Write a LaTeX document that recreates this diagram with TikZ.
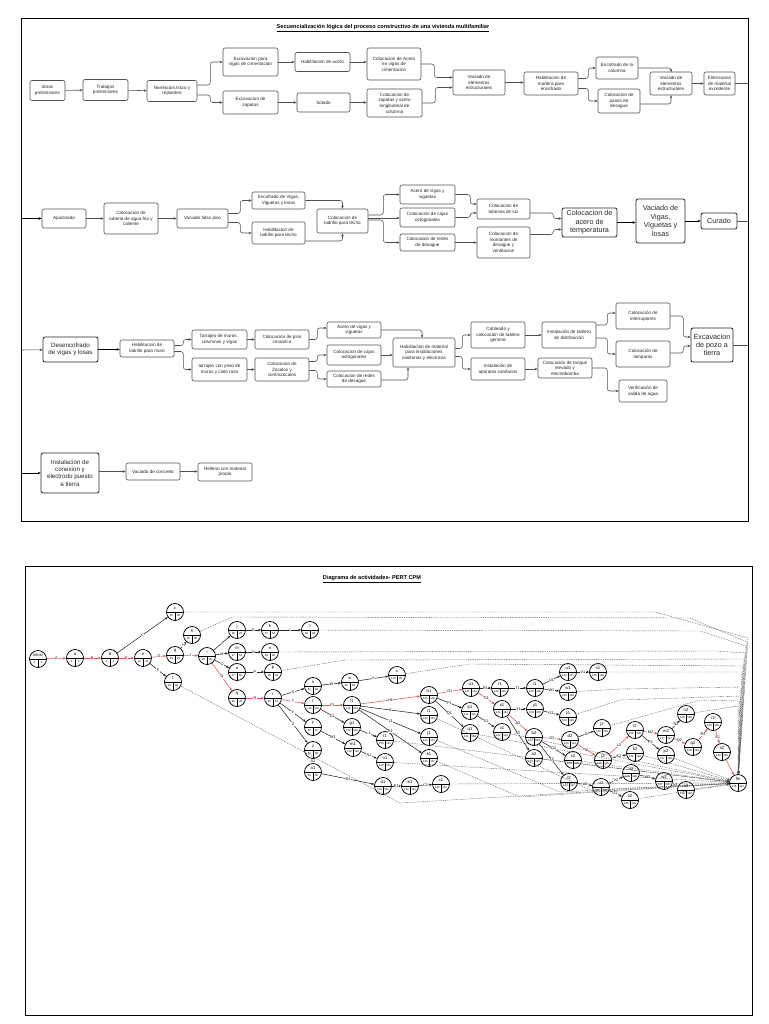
\documentclass[tikz,border=0pt]{standalone}
\usepackage{fontspec}
\setmainfont{Liberation Sans}
\usetikzlibrary{arrows.meta,calc}
\definecolor{bx}{HTML}{505050}
\definecolor{crit}{HTML}{E05555}
\newcommand{\pn}[6]{%
  \node[pcirc] (#1) at (#2,#3) {};
  \draw[line width=1pt] (#1.west) -- (#1.east);
  \draw[line width=0.6pt] (#1.center) -- (#1.south);
  \node[plab] at (#2,#3-4) {#4};
  \node[pnum] at (#2-3.6,#3+3.6) {#5};
  \node[pnum] at (#2+3.6,#3+3.6) {#6};
}
\newcommand{\pe}[4]{\draw[pedge,#4] (#1) -- node[elab]{#3} (#2);}
\begin{document}
\begin{tikzpicture}[x=1pt,y=-1pt,
  box/.style={draw=bx, rounded corners=2pt, line width=0.6pt, align=center, inner sep=0.5pt,
     font=\fontsize{4.6}{5.6}\selectfont, text=black!85},
  bbox/.style={box, draw=black!85, line width=0.8pt, font=\fontsize{7.2}{8.4}\selectfont},
  arr/.style={draw=bx, line width=0.55pt, -{Stealth[length=3pt,width=2.6pt]}, rounded corners=2.5pt},
  barr/.style={arr, draw=black, line width=0.9pt},
  pcirc/.style={circle, draw, line width=0.75pt, minimum size=17pt, inner sep=0pt},
  plab/.style={font=\fontsize{4.2}{4.6}\selectfont, inner sep=0pt},
  pnum/.style={font=\fontsize{2.8}{3}\selectfont, inner sep=0pt},
  pedge/.style={draw=black!85, line width=0.55pt, -{Stealth[length=3pt,width=2.4pt]}},
  crit/.style={draw=crit},
  elab/.style={font=\fontsize{3.8}{4.2}\selectfont, fill=white, inner sep=0.4pt},
  dotl/.style={draw=black!70, line width=0.4pt, dash pattern=on 0.9pt off 0.9pt, -{Stealth[length=2.5pt,width=2pt]}},
  ttl/.style={font=\bfseries\fontsize{5.6}{6}\selectfont, inner sep=0pt}
]
\useasboundingbox (0,0) rectangle (768,1024);
\fill[white] (0,0) rectangle (768,1024);

% ================= TOP PANEL =================
\draw[line width=0.9pt] (21,18) rectangle (748,521);
\node[ttl] (t1) at (383,28) {\underline{Secuencialización lógica del proceso constructivo de una vivienda multifamiliar}};

% Row 1
\node[box,minimum width=35,minimum height=20] (obras) at (47.5,90.5) {obras\\preliminares};
\node[box,minimum width=45,minimum height=21] (trab) at (105.5,90) {Trabajos\\preliminares};
\node[box,minimum width=50,minimum height=21] (niv) at (172,91) {Nivelacion,trazo y\\replanteo};
\node[box,minimum width=55,minimum height=28] (exv) at (250.5,62) {Excavacion para\\vigas de cimentacion};
\node[box,minimum width=55,minimum height=23] (exz) at (250.5,102.5) {Excavacion de\\zapatas};
\node[box,minimum width=55,minimum height=19] (hab) at (322.5,62) {Habilitacion de acero};
\node[box,minimum width=54,minimum height=32] (colav) at (394,64) {Colocacion de Acero\\en vigas de\\cimentacion};
\node[box,minimum width=53,minimum height=19] (solado) at (323.5,102.5) {Solado};
\node[box,minimum width=55,minimum height=28] (colz) at (394.5,103) {Colocacion de\\zapatas y acero\\longitudinal de\\columna};
\node[box,minimum width=52,minimum height=25] (vac1) at (479,82.5) {Vaciado de\\elementos\\estructurales};
\node[box,minimum width=54,minimum height=23] (habm) at (551,83.5) {Habilitacion de\\madera para\\encofrado};
\node[box,minimum width=42,minimum height=22] (encc) at (617,68) {Encofrado de la\\columna};
\node[box,minimum width=42,minimum height=24] (pases) at (619,101) {Colocacion de\\pases de\\desague};
\node[box,minimum width=42,minimum height=23] (vac2) at (671,83.5) {Vaciado de\\elementos\\estructurales};
\node[box,minimum width=31,minimum height=23] (elim) at (719.5,83.5) {Eliminacion\\de material\\excedente};
\coordinate (out1) at (748,83.5);

\draw[arr] (obras) -- (trab);
\draw[arr] (trab) -- (niv);
\draw[arr] ([yshift=6]niv.east) -- ++(13,0) |- (exv.west);
\draw[arr] ([yshift=-4]niv.east) -- ++(13,0) |- (exz.west);
\draw[arr] (exv) -- (hab);
\draw[arr] (hab.east) -- (hab.east -| colav.west);
\draw[arr] (exz.east) -- (exz.east -| solado.west);
\draw[arr] (solado.east) -- (solado.east -| colz.west);
\draw[arr] (colav.east) -- ++(13,0) |- ([yshift=5]vac1.west);
\draw[arr] (colz.east) -- ++(13,0) |- ([yshift=-5]vac1.west);
\draw[arr] (vac1.east) -- (vac1.east -| habm.west);
\draw[arr] ([yshift=5]habm.east) -- ++(10,0) |- (encc.west);
\draw[arr] ([yshift=-5]habm.east) -- ++(10,0) |- (pases.west);
\draw[arr] (encc.east) -| (vac2.north);
\draw[arr] ([yshift=-3]pases.east) -| (vac2.south);
\draw[arr] (vac2) -- (elim);
\draw[draw=bx,line width=0.55pt] (elim.east) -- (out1);

% Row 2
\coordinate (in2) at (22,218.5);
\node[box,minimum width=44,minimum height=19] (apis) at (64,218.5) {Apisonado};
\node[box,minimum width=54,minimum height=31] (tub) at (131,218.5) {Colocacion de\\tuberia de agua fria y\\caliente};
\node[box,minimum width=51,minimum height=19] (vfp) at (202.5,218.5) {Vaciado falso piso};
\node[box,minimum width=53,minimum height=17] (encv) at (278.5,200.5) {Encofrado de Vigas,\\Viguetas y losas};
\node[box,minimum width=53,minimum height=22] (habl) at (278.5,233) {Habilitacion de\\ladrillo para techo};
\node[box,minimum width=51,minimum height=24] (coll) at (342.5,221) {Colocacion de\\ladrillo para techo};
\node[box,minimum width=55,minimum height=19] (acv) at (427.5,194.5) {Acero de vigas y\\viguetas};
\node[box,minimum width=55,minimum height=19] (caj) at (427.5,217.5) {Colocacion de cajas\\octogonales};
\node[box,minimum width=55,minimum height=17] (red) at (427.5,242.5) {Colocacion de redes\\de desague};
\node[box,minimum width=53,minimum height=20] (tluz) at (503.5,209) {Colocacion de\\tuberias de luz};
\node[box,minimum width=53,minimum height=31] (mont) at (503.5,242.5) {Colocacion de\\montantes de\\desague y\\ventilacion};
\node[bbox,minimum width=55,minimum height=29] (acet) at (589.5,222.5) {Colocacion de\\acero de\\temperatura};
\node[bbox,minimum width=49,minimum height=44] (vvl) at (660.5,221) {Vaciado de\\Vigas,\\Viguetas y\\losas};
\node[bbox,minimum width=36,minimum height=16] (cur) at (719,221) {Curado};
\coordinate (out2) at (748,221);

\draw[barr] (in2) -- (apis);
\draw[arr] (apis) -- (tub);
\draw[arr] (tub) -- (vfp);
\draw[arr] ([yshift=5]vfp.east) -- ++(12,0) |- (encv.west);
\draw[arr] ([yshift=-4]vfp.east) -- ++(12,0) |- (habl.west);
\draw[arr] (encv.east) -| (coll.north);
\draw[arr] ([yshift=-8]habl.east) -| (coll.south);
\draw[arr] ([yshift=6]coll.east) -- ++(15,0) |- (acv.west);
\draw[arr] ([yshift=3]coll.east) -- ([yshift=3]coll.east -| caj.west);
\draw[arr] ([yshift=1]coll.east) -- ++(15,0) |- (red.west);
\draw[arr] (acv.east) -- ++(15,0) |- ([yshift=5]tluz.west);
\draw[arr] (caj.east) -- ++(15,0) |- ([yshift=-4]tluz.west);
\draw[arr] (red.east) -- (red.east -| mont.west);
\draw[arr] ([yshift=-4]tluz.east) -- ++(23,0) |- ([yshift=4]acet.west);
\draw[arr] ([yshift=8]mont.east) -- ++(23,0) |- ([yshift=-7]acet.west);
\draw[barr] (acet.east) -- (acet.east -| vvl.west);
\draw[barr] (vvl) -- (cur);
\draw[draw=bx,line width=0.55pt] (cur.east) -- (out2);

% Row 3
\coordinate (in3) at (22,350);
\node[bbox,font=\fontsize{6.2}{7.4}\selectfont,minimum width=55,minimum height=25] (desen) at (70.5,349.5) {Desencofrado\\de vigas y losas};
\node[box,minimum width=54,minimum height=17] (hlm) at (147,348.5) {Habilitacion de\\ladrillo para muro};
\node[box,minimum width=55,minimum height=19] (tarr) at (219.5,339.5) {Tarrajeo de muros ,\\columnas y vigas};
\node[box,minimum width=55,minimum height=23] (yeso) at (219.5,369.5) {tarrajeo con yeso de\\muros y cielo raso};
\node[box,minimum width=54,minimum height=19] (piso) at (282,339.5) {Colocación de piso\\ceramico};
\node[box,minimum width=54,minimum height=23] (zoc) at (282,369.5) {Colocacion de\\Zocalos y\\contrazocalos};
\node[box,minimum width=54,minimum height=16] (acv2) at (354,330) {Acero de vigas y\\viguetas};
\node[box,minimum width=54,minimum height=20] (caj2) at (354,355) {Colocacion de cajas\\octogonales};
\node[box,minimum width=54,minimum height=16] (red2) at (354,379) {Colocacion de redes\\de desague};
\node[box,minimum width=62,minimum height=29] (hmat) at (424,352.5) {Habilitacion de material\\para instalaciones\\sanitarias y electricas};
\node[box,minimum width=54,minimum height=26] (cabl) at (498,335) {Cableado y\\colocación de tablero\\general};
\node[box,minimum width=54,minimum height=22] (apar) at (498,369) {Instalación de\\aparatos sanitarios};
\node[box,minimum width=54,minimum height=26] (tabd) at (569,335) {Instalación de tablero\\de distribución};
\node[box,minimum width=54,minimum height=20] (tanq) at (565,368) {Colocación de tanque\\elevado y\\electrobomba};
\node[box,minimum width=54,minimum height=26] (intr) at (643,316) {Colocación de\\interruptores};
\node[box,minimum width=54,minimum height=26] (lamp) at (643,354) {Colocación de\\lamparas};
\node[box,minimum width=48,minimum height=22] (verif) at (643,391) {Verificación de\\salida de agua};
\node[bbox,minimum width=42,minimum height=34] (pozo) at (712,345) {Excavacion\\de pozo a\\tierra};
\coordinate (out3) at (748,345);

\draw[arr] (in3) -- (desen);
\draw[barr] (desen.east) -- (desen.east -| hlm.west);
\draw[arr] ([yshift=3]hlm.east) -- ++(9,0) |- (tarr.west);
\draw[arr] ([yshift=-3]hlm.east) -- ++(9,0) |- (yeso.west);
\draw[arr] (tarr) -- (piso);
\draw[arr] (yeso) -- (zoc);
\draw[arr] (piso.east) -- ++(8,0) |- ([yshift=2]acv2.west);
\draw[arr] ([yshift=8]zoc.east) -- ++(8,0) |- (caj2.west);
\draw[arr] ([yshift=-1]zoc.east) -- ++(8,0) |- (red2.west);
\draw[arr] (acv2.east) -| ([xshift=-2]hmat.north);
\draw[arr] (caj2.east) -- (caj2.east -| hmat.west);
\draw[arr] ([yshift=-1]red2.east) -| ([xshift=-16]hmat.south);
\draw[arr] ([yshift=4]hmat.east) -- ++(7,0) |- (cabl.west);
\draw[arr] ([yshift=-4]hmat.east) -- ++(7,0) |- (apar.west);
\draw[arr] (cabl) -- (tabd);
\draw[arr] (apar.east) -- (apar.east -| tanq.west);
\draw[arr] ([yshift=10]tabd.east) -- ++(11,0) |- ([yshift=3]intr.west);
\draw[arr] ([yshift=-3]tabd.east) -- ++(11,0) |- (lamp.west);
\draw[arr] (tanq.east) -- ++(15,0) |- (verif.west);
\draw[arr] (intr.east) -- ++(13,0) |- ([yshift=8]pozo.west);
\draw[arr] ([yshift=1]lamp.east) -- ++(13,0) |- ([yshift=-1]pozo.west);
\draw[draw=bx,line width=0.55pt] (pozo.east) -- (out3);

% Row 4
\coordinate (in4) at (22,473);
\node[bbox,font=\fontsize{6.2}{7.4}\selectfont,minimum width=58,minimum height=40] (inst) at (70,473) {Instalacion de\\conexion y\\electrodo puesto\\a tierra};
\node[box,minimum width=54,minimum height=17] (vconc) at (153,471.5) {Vaciado de concreto};
\node[box,minimum width=54,minimum height=18] (rell) at (225,472) {Relleno con material\\propio};
\draw[barr] (in4) -- (inst);
\draw[arr] (inst.east |- vconc.west) -- (vconc.west);
\draw[arr] (vconc.east) -- (vconc.east -| rell.west);

% ================= PERT PANEL =================
\draw[line width=0.9pt] (25,566) rectangle (752,1015);
\node[ttl] (t2) at (372,579) {\underline{Diagrama de actividades- PERT CPM}};

\pn{Pinicio}{38}{659}{inicio}{0}{0}
\pn{Pa}{75}{658}{a}{3}{3}
\pn{Pb}{110}{658}{b}{4}{4}
\pn{Pc}{175}{612}{c}{10}{96}
\pn{Pe}{143}{658}{e}{22}{22}
\pn{Pf}{173}{682}{f}{23}{96}
\pn{Pg}{175}{655}{g}{24}{24}
\pn{Ph}{192}{635}{h}{25}{96}
\pn{Pi}{207}{656}{i}{25}{25}
\pn{Pj}{237}{630}{j}{26}{26}
\pn{Pk}{270}{630}{k}{27}{62}
\pn{Pl}{310}{630}{l}{28}{96}
\pn{Pm}{237}{652}{m}{27}{63}
\pn{Pn}{270}{652}{n}{28}{96}
\pn{Po}{237}{672}{o}{27}{62}
\pn{Pp}{273}{672}{p}{28}{96}
\pn{Pq}{237}{698}{q}{26}{26}
\pn{Pr}{273}{698}{r}{54}{54}
\pn{Ps}{313}{686}{s}{61}{83}
\pn{Pt}{313}{705}{t}{118}{118}
\pn{Pw}{350}{682}{w}{62}{84}
\pn{Px}{397}{675}{x}{112}{96}
\pn{Pfa}{352}{705}{f1}{119}{119}
\pn{Py}{313}{727}{y}{62}{87}
\pn{Pz}{313}{750}{z}{63}{88}
\pn{Pga}{352}{727}{g1}{119}{120}
\pn{Pma}{353}{748}{m1}{118}{120}
\pn{Pla}{385}{740}{l1}{120}{121}
\pn{Pna}{385}{762}{n1}{119}{121}
\pn{Paa}{313}{772}{a1}{64}{90}
\pn{Pda}{383}{786}{d1}{118}{121}
\pn{Pea}{410}{786}{e1}{119}{121}
\pn{Pca}{441}{784}{c1}{120}{121}
\pn{Pha}{429}{695}{h1}{120}{120}
\pn{Pia}{429}{715}{i1}{120}{121}
\pn{Pja}{429}{737}{j1}{120}{121}
\pn{Pka}{429}{758}{k1}{120}{121}
\pn{Poa}{471}{688}{o1}{121}{121}
\pn{Ppa}{470}{711}{p1}{121}{122}
\pn{Pqa}{470}{733}{q1}{121}{122}
\pn{Pra}{500}{688}{r1}{122}{125}
\pn{Psa}{502}{709}{s1}{122}{122}
\pn{Pxa}{502}{732}{x1}{122}{124}
\pn{Pta}{535}{688}{t1}{123}{126}
\pn{Pya}{535}{709}{y1}{123}{125}
\pn{Pbb}{534}{737}{b2}{123}{123}
\pn{Pab}{534}{758}{a2}{123}{125}
\pn{Pua}{568}{672}{u1}{124}{127}
\pn{Pva}{598}{672}{v1}{125}{128}
\pn{Pwa}{568}{692}{w1}{124}{128}
\pn{Pza}{568}{717}{z1}{124}{126}
\pn{Pdb}{570}{740}{d2}{124}{124}
\pn{Pcb}{573}{760}{c2}{124}{127}
\pn{Ptb}{569}{782}{t2}{124}{127}
\pn{Pjb}{602}{728}{j2}{125}{128}
\pn{Pib}{603}{760}{i2}{125}{125}
\pn{Plb}{635}{730}{l2}{126}{126}
\pn{Pkb}{635}{753}{k2}{126}{128}
\pn{Pmb}{666}{735}{m2}{127}{127}
\pn{Ppb}{666}{755}{p2}{127}{128}
\pn{Pnb}{686}{714}{n2}{128}{129}
\pn{Pqb}{693}{747}{q2}{128}{128}
\pn{Prb}{713}{722}{r2}{129}{129}
\pn{Psb}{722}{752}{s2}{130}{130}
\pn{Pub}{601}{787}{u2}{125}{128}
\pn{Pvb}{631}{773}{v2}{126}{128}
\pn{Pwb}{664}{781}{w2}{127}{129}
\pn{Pzb}{630}{800}{z2}{126}{129}
\pn{Pac}{686}{790}{a3}{128}{130}
\pn{Pfin}{738}{783}{fin}{131}{131}

\pe{Pinicio}{Pa}{A}{crit}
\pe{Pa}{Pb}{B}{crit}
\pe{Pb}{Pc}{C}{}
\pe{Pb}{Pe}{E}{crit}
\pe{Pe}{Pf}{F}{}
\pe{Pe}{Pg}{G}{crit}
\pe{Pg}{Ph}{H}{}
\pe{Pg}{Pi}{I}{crit}
\pe{Pi}{Pj}{J}{}
\pe{Pi}{Pm}{M}{}
\pe{Pi}{Po}{O}{}
\pe{Pi}{Pq}{Q}{crit}
\pe{Pj}{Pk}{K}{}
\pe{Pk}{Pl}{L}{}
\pe{Pm}{Pn}{N}{}
\pe{Po}{Pp}{P}{}
\pe{Pq}{Pr}{R}{crit}
\pe{Pr}{Ps}{S}{}
\pe{Pr}{Pt}{T}{crit}
\pe{Pr}{Py}{Y}{}
\pe{Pr}{Pz}{Z}{}
\pe{Ps}{Pw}{W}{}
\pe{Pw}{Px}{X}{}
\pe{Pt}{Pfa}{F1}{crit}
\pe{Pt}{Pga}{G1}{}
\pe{Py}{Pma}{M1}{}
\pe{Pz}{Paa}{A1}{}
\pe{Pga}{Pla}{L1}{}
\pe{Pma}{Pna}{N1}{}
\pe{Paa}{Pda}{B1}{}
\pe{Pda}{Pea}{E1}{}
\pe{Pea}{Pca}{C1}{}
\pe{Pfa}{Pha}{H1}{crit}
\pe{Pfa}{Pia}{I1}{}
\pe{Pfa}{Pja}{J1}{}
\pe{Pfa}{Pka}{K1}{}
\pe{Pha}{Poa}{O1}{crit}
\pe{Pha}{Ppa}{P1}{}
\pe{Pha}{Pqa}{Q1}{}
\pe{Poa}{Pra}{R1}{}
\pe{Poa}{Psa}{S1}{crit}
\pe{Ppa}{Pxa}{X1}{}
\pe{Pra}{Pta}{T1}{}
\pe{Pta}{Pua}{U1}{}
\pe{Pta}{Pwa}{W1}{}
\pe{Pua}{Pva}{V1}{}
\pe{Psa}{Pya}{Y1}{}
\pe{Pya}{Pza}{Z1}{}
\pe{Psa}{Pbb}{B2}{crit}
\pe{Psa}{Pab}{A2}{}
\pe{Pbb}{Pdb}{D2}{crit}
\pe{Pbb}{Pcb}{C2}{}
\pe{Pbb}{Ptb}{T2}{}
\pe{Pdb}{Pjb}{J2}{}
\pe{Pdb}{Pib}{I2}{crit}
\pe{Pib}{Plb}{L2}{crit}
\pe{Pib}{Pkb}{K2}{}
\pe{Plb}{Pmb}{M2}{crit}
\pe{Plb}{Ppb}{P2}{}
\pe{Pmb}{Pnb}{N2}{}
\pe{Pmb}{Pqb}{Q2}{crit}
\pe{Pqb}{Prb}{R2}{crit}
\pe{Prb}{Psb}{S2}{crit}
\draw[pedge,crit] (Psb) -- (Pfin);
\pe{Ptb}{Pub}{U2}{}
\pe{Pub}{Pvb}{V2}{}
\pe{Pvb}{Pwb}{W2}{}
\pe{Pub}{Pzb}{Z2}{}
\pe{Pwb}{Pac}{A3}{}

% dotted lines to fin (top bundle)
\draw[dotl] (Pc) -- (655,612) -- (748,638) -- (Pfin);
\draw[dotl] (Ph) -- (232,617) -- (690,618) -- (747,642) -- (Pfin);
\draw[dotl] (Pl) -- (700,631) -- (746,646) -- (Pfin);
\draw[dotl] (Pn) -- (715,651) -- (745,653) -- (Pfin);
\draw[dotl] (Pp) -- (345,660) -- (744,659) -- (Pfin);
\draw[dotl] (Px) -- (470,664) -- (743,666) -- (Pfin);
\draw[dotl] (Pva) -- (742,672) -- (Pfin);
\draw[dotl] (Pwa) -- (620,689) -- (741,687) -- (Pfin);
\draw[dotl] (Pza) -- (620,700) -- (740,696) -- (Pfin);
\draw[dotl] (Pjb) -- (700,700) -- (739,701) -- (Pfin);
\draw[dotl] (Pnb) -- (738,706) -- (Pfin);
% dotted lines to fin (bottom fan)
\draw[dotl] (Pf) -- (400,803) -- (Pfin);
\draw[dotl] (Pka) -- (520,797) -- (Pfin);
\draw[dotl] (Pja) -- (560,792) -- (Pfin);
\draw[dotl] (Pia) -- (590,790) -- (Pfin);
\draw[dotl] (Pqa) -- (Pfin);
\draw[dotl] (Pxa) -- (Pfin);
\draw[dotl] (Pab) -- (Pfin);
\draw[dotl] (Pcb) -- (Pfin);
\draw[dotl] (Pkb) -- (Pfin);
\draw[dotl] (Ppb) -- (Pfin);
\draw[dotl] (Pla) -- (Pfin);
\draw[dotl] (Pna) -- (Pfin);
\draw[dotl] (Pca) -- (Pfin);
\draw[dotl] (Pac) -- (Pfin);
\draw[dotl] (Pzb) -- (Pfin);
\end{tikzpicture}
\end{document}
